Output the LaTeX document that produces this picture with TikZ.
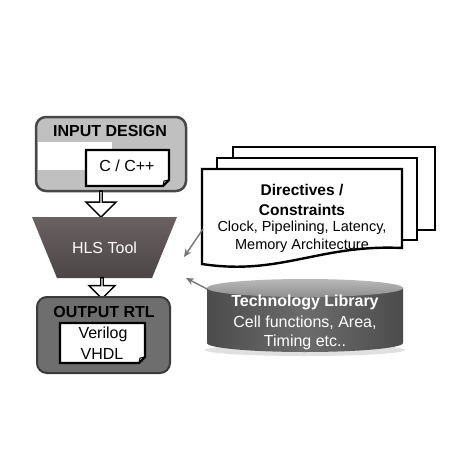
\documentclass[tikz,border=0pt]{standalone}
\usepackage{fontspec}
\setmainfont{Liberation Sans}
\usetikzlibrary{shapes.arrows, arrows.meta}
\definecolor{inboxfill}{HTML}{C0C0C0}
\definecolor{inboxdraw}{HTML}{474747}
\definecolor{outboxfill}{HTML}{6E6E6E}
\definecolor{outboxdraw}{HTML}{3A3A3A}
\definecolor{hlstop}{HTML}{6A6262}
\definecolor{hlsbot}{HTML}{4C4545}
\definecolor{cylside}{HTML}{4C4C4C}
\definecolor{cylmid}{HTML}{6C6C6C}
\definecolor{cyltopc}{HTML}{A8A8A8}
\definecolor{thinarrow}{HTML}{777777}
\tikzset{
  big/.style={font=\fontsize{16}{19}\selectfont},
  bigbold/.style={font=\bfseries\fontsize{16}{19}\selectfont},
  dirbold/.style={font=\bfseries\fontsize{15.5}{19}\selectfont},
  dirtext/.style={font=\fontsize{14.5}{18}\selectfont},
  docpage/.style={draw=black, fill=white, line width=2.4pt, line join=miter},
  sheet/.style={draw=black, fill=white, line width=2.4pt},
  hollowarrow/.style={single arrow, draw=black, fill=white, line width=1.3pt,
     inner sep=0pt, rotate=-90, single arrow tip angle=90},
  grayarrow/.style={draw=thinarrow, line width=1.4pt, -{Stealth[length=8pt,width=7pt]}},
}
\begin{document}
\begin{tikzpicture}[x=1pt,y=-1pt]
\useasboundingbox (0,0) rectangle (474,474);
\fill[white] (0,0) rectangle (474,474);

% ---------- INPUT DESIGN ----------
\draw[rounded corners=10pt, line width=2.5pt, draw=inboxdraw, fill=inboxfill]
  (36,117) rectangle (186,191);
\node[bigbold] (intitle) at (110,131) {INPUT DESIGN};
\fill[white] (38,142) rectangle (112,170);
\draw[docpage] (86,150) -- (169,150) -- (169,180) -- (163,186) -- (86,186) -- cycle;
\draw[line width=1pt] (169,180) -- (164,181) -- (163,186);
\node[big] (cdoc) at (127,166) {C / C++};

% ---------- arrow input -> HLS ----------
\node[hollowarrow, minimum width=30pt, single arrow head extend=7pt, minimum height=26pt]
  (ar1) at (101,203.5) {};

% ---------- HLS Tool ----------
\shade[top color=hlstop, bottom color=hlsbot]
  (32,217) -- (177,217) -- (152,278) -- (57,278) -- cycle;
\node[big, text=white] (hls) at (104.5,248) {HLS Tool};

% ---------- arrow HLS -> output ----------
\node[hollowarrow, minimum width=26pt, single arrow head extend=6pt, minimum height=21pt]
  (ar2) at (102,287.5) {};

% ---------- OUTPUT RTL ----------
\draw[rounded corners=10pt, line width=2pt, draw=outboxdraw, fill=outboxfill]
  (37,297) rectangle (170,373);
\node[bigbold] (outtitle) at (104,312) {OUTPUT RTL};
\draw[docpage] (60,323) -- (145,323) -- (145,357) -- (139,363) -- (60,363) -- cycle;
\draw[line width=1pt] (145,357) -- (140,358) -- (139,363);
\node[big] (verilog) at (103,334) {Verilog};
\node[big] (vhdl) at (102,354) {VHDL};

% ---------- Directives / Constraints ----------
\draw[sheet] (233,147) rectangle (435,230);
\draw[sheet] (217,158) rectangle (417,240);
\draw[sheet] (202,169) -- (402,169) -- (402,248)
  .. controls (320,244) and (280,276) .. (202,264) -- cycle;
\node[dirbold] (dir1) at (302,190) {Directives /};
\node[dirbold] (dir2) at (302,210) {Constraints};
\node[dirtext] (dir3) at (302,228) {Clock, Pipelining, Latency,};
\node[dirtext] (dir4) at (302,246) {Memory Architecture};

% ---------- Technology Library ----------
\fill[black!12] (305,350) ellipse[x radius=100, y radius=6];
\shade[left color=cylside, right color=cylside, middle color=cylmid]
  (207,288) -- (207,343) arc[start angle=180, end angle=0, x radius=98, y radius=9]
  -- (403,288) -- cycle;
\shade[top color=cyltopc!80!white, bottom color=cyltopc!85!black]
  (305,288) ellipse[x radius=98, y radius=9];
\node[bigbold, text=white] (tech1) at (305,302) {Technology Library};
\node[big, text=white] (tech2) at (305,323) {Cell functions, Area,};
\node[big, text=white] (tech3) at (305,342) {Timing etc..};

% ---------- thin gray arrows ----------
\coordinate (dirL) at (203,229);
\coordinate (hlsR1) at (184,257);
\coordinate (techL) at (207,289);
\coordinate (hlsR2) at (186,278);
\draw[grayarrow] (dirL) -- (hlsR1);
\draw[grayarrow] (techL) -- (hlsR2);
\end{tikzpicture}
\end{document}
